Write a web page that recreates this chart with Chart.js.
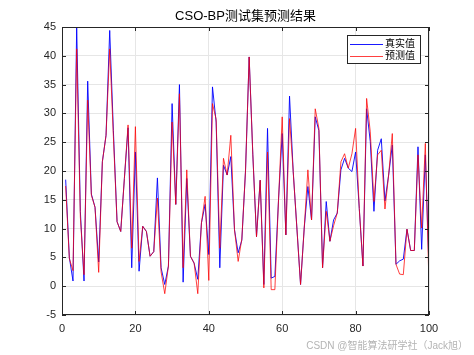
<!DOCTYPE html>
<html>
<head>
<meta charset="utf-8">
<script src="https://cdn.jsdelivr.net/npm/chart.js@4.4.0/dist/chart.umd.min.js"></script>
<style>
html,body{margin:0;padding:0;background:#fff;}
#wrap{width:474px;height:355px;}
</style>
</head>
<body>
<div id="wrap"><canvas id="c" width="474" height="355"></canvas></div>
<script>
const titleText = "CSO-BP测试集预测结果";
const seriesNames = ["真实值", "预测值"];
const watermark = "CSDN @智能算法研学社（Jack旭）";
const xTicks = [0, 20, 40, 60, 80, 100];
const yTicks = [-5, 0, 5, 10, 15, 20, 25, 30, 35, 40, 45];
const sampleIndex = Array.from({length: 100}, (_, i) => i + 1);
const actualValues = [
  18.5, 5.0, 0.9, 45, 13, 0.9, 35.6, 16, 13.7, 4.2,
  21.6, 26.2, 44.4, 27, 11.2, 9.5, 18.7, 27.5, 3.2, 23.3,
  2.6, 10.4, 9.5, 5.2, 6, 18.8, 3.2, 0.3, 3.5, 31.7,
  14.2, 35, 0.7, 18.7, 5.2, 4, 1.2, 11, 14.2, 5.5,
  34.6, 28.5, 3.2, 21, 19.3, 22.5, 9.8, 5.8, 8, 20,
  39.8, 22.8, 8.6, 18.4, 0.3, 27.4, 1.4, 1.7, 15, 26.5,
  8.9, 33, 19.9, 10.1, 0.3, 10.1, 17.3, 11.5, 29.4, 27,
  3.2, 14.7, 7.8, 11.5, 12.7, 20.2, 22.2, 20.5, 19.9, 23.3,
  13.5, 3.5, 30.8, 25.1, 13, 23.6, 25.6, 14.8, 19.3, 24.5,
  3.8, 4.4, 4.7, 9.9, 6.2, 6.2, 24.2, 6.4, 22.8, 3
];
const predictedValues = [
  17.4, 4.8, 2.7, 41.2, 12, 2, 32.3, 15.8, 13.7, 2.4,
  21.6, 26.2, 41.2, 26, 11.2, 9.5, 18.7, 28, 6.6, 27.7,
  4.3, 10.4, 9.5, 5.2, 6, 15.3, 2.5, -1.3, 3.5, 28.5,
  14.2, 33.4, 3.2, 20.2, 5.2, 4, -1.3, 11, 15.6, 1,
  31.7, 29, 6.6, 22.2, 19.3, 26.2, 9.8, 4.3, 8.2, 20,
  39.8, 22.8, 8.6, 18.4, -0.3, 23.3, -0.6, -0.6, 15, 29.4,
  8.9, 29.1, 19.9, 10.1, 0.3, 10.1, 20.2, 11.5, 30.8, 27.4,
  3.2, 13, 7.8, 10.5, 12.7, 21.6, 23, 20.5, 23, 27.4,
  13.5, 3.5, 32.6, 26.8, 14.7, 22.8, 23.6, 13.4, 19.3, 26.5,
  3.8, 2.1, 2, 9.9, 6.2, 6.2, 22.8, 10.1, 24.8, 0
];

const AX = '#262626';
const FONT = '"Liberation Sans", Arial, "Noto Sans CJK SC", sans-serif';
const CJKFONT = '"Liberation Serif", "Noto Sans CJK SC", serif';

const decor = {
  id: 'decor',
  afterDraw(chart) {
    const ctx = chart.ctx, a = chart.chartArea;
    const xs = chart.scales.x, ys = chart.scales.y;
    ctx.save();
    ctx.strokeStyle = AX; ctx.lineWidth = 1;
    ctx.strokeRect(Math.round(a.left) + 0.5, Math.round(a.top) + 0.5,
                   Math.round(a.right - a.left) - 1, Math.round(a.bottom - a.top) - 1);
    ctx.beginPath();
    xTicks.forEach(v => {
      const px = Math.round(xs.getPixelForValue(v)) + 0.5;
      ctx.moveTo(px, a.bottom); ctx.lineTo(px, a.bottom - 4);
      ctx.moveTo(px, a.top); ctx.lineTo(px, a.top + 4);
    });
    yTicks.forEach(v => {
      const py = Math.round(ys.getPixelForValue(v)) + 0.5;
      ctx.moveTo(a.left, py); ctx.lineTo(a.left + 4, py);
      ctx.moveTo(a.right, py); ctx.lineTo(a.right - 4, py);
    });
    ctx.stroke();
    ctx.fillStyle = '#000';
    ctx.font = '13px ' + FONT;
    ctx.textAlign = 'center'; ctx.textBaseline = 'middle';
    ctx.fillText(titleText, (a.left + a.right) / 2, 16);
    const lx = 347, ly = 35, lw = 73, lh = 28;
    ctx.fillStyle = '#fff';
    ctx.fillRect(lx, ly, lw, lh);
    ctx.strokeStyle = AX;
    ctx.strokeRect(lx + 0.5, ly + 0.5, lw, lh);
    const ds = chart.data.datasets;
    ds.forEach((d, i) => {
      const yy = ly + 9 + i * 11.5;
      ctx.strokeStyle = d.borderColor; ctx.lineWidth = 1;
      ctx.beginPath(); ctx.moveTo(350, Math.round(yy) + 0.5); ctx.lineTo(383, Math.round(yy) + 0.5); ctx.stroke();
      ctx.fillStyle = '#000';
      ctx.font = '10px ' + CJKFONT;
      ctx.textAlign = 'left'; ctx.textBaseline = 'middle';
      ctx.fillText(d.label, 385, yy + 0.5);
    });
    ctx.fillStyle = '#b4b4b4';
    ctx.font = '10px ' + FONT;
    ctx.textAlign = 'right'; ctx.textBaseline = 'middle';
    ctx.fillText(watermark, 468, 346);
    ctx.restore();
  }
};

new Chart(document.getElementById('c'), {
  type: 'line',
  data: {
    datasets: [
      {
        label: seriesNames[0],
        data: sampleIndex.map((x, i) => ({x, y: actualValues[i]})),
        borderColor: 'rgba(0,0,255,0.9)',
        borderWidth: 1, pointRadius: 0, tension: 0, fill: false, order: 2
      },
      {
        label: seriesNames[1],
        data: sampleIndex.map((x, i) => ({x, y: predictedValues[i]})),
        borderColor: 'rgba(255,0,0,0.75)',
        borderWidth: 1, pointRadius: 0, tension: 0, fill: false, order: 1
      }
    ]
  },
  options: {
    responsive: false,
    animation: false,
    devicePixelRatio: 1,
    layout: {padding: {left: 0, right: 45, top: 27, bottom: 0}},
    plugins: {legend: {display: false}, tooltip: {enabled: false}, title: {display: false}},
    scales: {
      x: {
        type: 'linear', min: 0, max: 100,
        afterBuildTicks: s => { s.ticks = xTicks.map(v => ({value: v})); },
        afterFit: s => { s.height = 40; },
        grid: {color: '#e6e6e6', drawTicks: false},
        border: {display: false},
        ticks: {color: AX, font: {family: FONT, size: 11}, padding: 7, maxRotation: 0}
      },
      y: {
        type: 'linear', min: -5, max: 45,
        afterBuildTicks: s => { s.ticks = yTicks.map(v => ({value: v})); },
        afterFit: s => { s.width = 62; },
        grid: {color: '#e6e6e6', drawTicks: false},
        border: {display: false},
        ticks: {color: AX, font: {family: FONT, size: 11}, padding: 6}
      }
    }
  },
  plugins: [decor]
});
</script>
</body>
</html>
